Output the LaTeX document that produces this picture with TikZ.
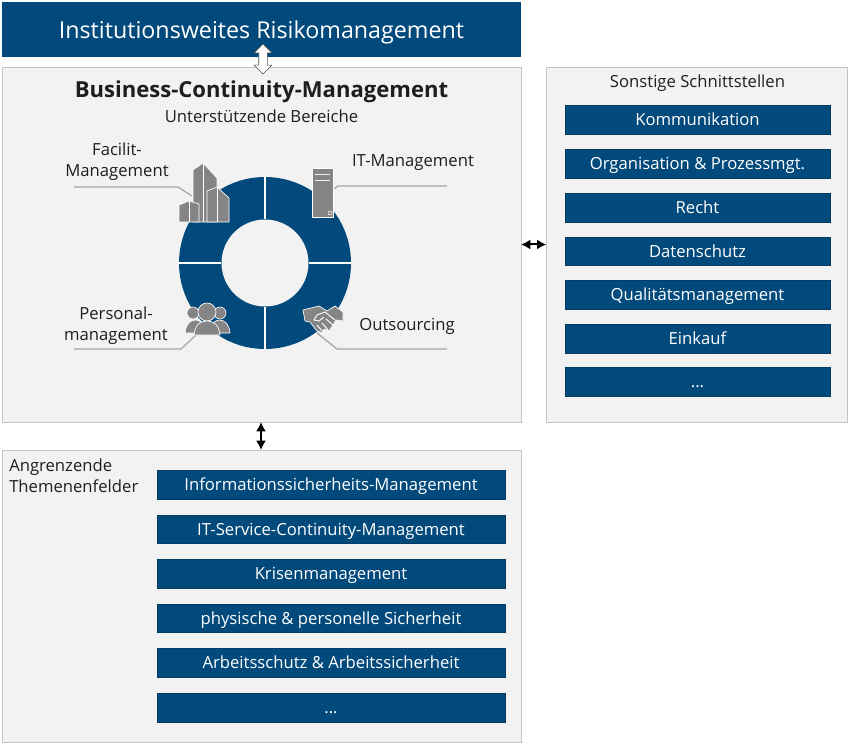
\documentclass[tikz,border=0pt]{standalone}
\usepackage{fontspec}
\setmainfont{Open Sans}
\usetikzlibrary{arrows.meta,shapes.arrows}
\definecolor{barblue}{HTML}{034A7C}
\definecolor{panelfill}{HTML}{F2F2F2}
\definecolor{panelline}{HTML}{C4C4C4}
\definecolor{icongrey}{HTML}{858585}
\definecolor{leader}{HTML}{A6A6A6}
\definecolor{inktext}{HTML}{1E1E1E}
\tikzset{
  x=0.75pt,y=-0.75pt,
  panel/.style={draw=panelline,fill=panelfill,line width=0.7pt,outer sep=0pt,inner sep=0pt},
  bar/.style={fill=barblue,draw=barblue!80!black,line width=0.4pt},
  barlabel/.style={text=white,inner sep=0pt,text height=9pt,text depth=0pt,font=\fontsize{12.5pt}{14pt}\selectfont},
  lbl/.style={text=inktext,inner sep=0pt,text height=9pt,text depth=0pt,font=\fontsize{12.5pt}{15.8pt}\selectfont},
  lbltwo/.style={text=inktext,inner sep=0pt,align=center,font=\fontsize{12.5pt}{15.8pt}\selectfont},
  leadline/.style={draw=leader,line width=0.9pt},
  icon/.style={fill=icongrey,draw=white,line width=0.5pt,line join=round},
  blackarrow/.style={{Latex[length=7pt,width=7.5pt]}-{Latex[length=7pt,width=7.5pt]},line width=1.5pt,black},
}
\newcommand{\barbox}[6]{\path[bar] (#1,#2) rectangle (#3,#4); \node[barlabel] (#5) at ({(#1+#3)/2},{(#2+#4)/2+0.3}) {#6};}
\begin{document}
\begin{tikzpicture}
\useasboundingbox (0,0) rectangle (853,745);
% panels
\node[panel,minimum width=389.25pt,minimum height=266.25pt] (bcm) at (261.5,244.5) {};
\node[panel,minimum width=226pt,minimum height=266.25pt] (other) at (697,244.5) {};
\node[panel,minimum width=389.25pt,minimum height=219pt] (adj) at (261.5,596) {};
\node[fill=barblue,minimum width=389.25pt,minimum height=41.25pt,inner sep=0pt,outer sep=0pt] (top) at (261.5,29.5) {};
\node[text=white,inner sep=0pt,text height=12.6pt,text depth=0pt,font=\fontsize{17.45pt}{20pt}\selectfont] (toplabel) at (261.5,30) {Institutionsweites Risikomanagement};
% titles
\node[lbl,text height=11.8pt,font=\fontsize{16.55pt}{18pt}\bfseries\selectfont] (t1) at (261.5,90) {Business-Continuity-Management};
\node[lbl] (t2) at (261.5,116.5) {Unterstützende Bereiche};
\node[lbl] (t3) at (697.5,82) {Sonstige Schnittstellen};
\node[lbltwo,align=left,anchor=north west] (t4) at (9,459) {Angrenzende\\Themenenfelder};
% ring
\fill[barblue] (265,263) circle[radius=64.5pt];
\fill[panelfill] (265,263) circle[radius=32.6pt];
\draw[white,line width=1.5pt] (265,176) -- (265,219) (265,307) -- (265,350) (178,263) -- (221,263) (309,263) -- (352,263);
% leader lines
\draw[leadline] (74,187) -- (178,187) -- (192,196);
\draw[leadline] (334,189) -- (338,186) -- (447,186);
\draw[leadline] (74,349) -- (181,349) -- (196,335);
\draw[leadline] (317,333) -- (337,349) -- (447,349);
% building
\path[icon] (193,170) -- (203,163) -- (217,178) -- (217,222) -- (193,222) -- cycle;
\draw[white,line width=0.5pt] (203,163) -- (203,222);
\path[icon] (207,191) -- (217,187) -- (229,198) -- (229,222) -- (207,222) -- cycle;
\draw[white,line width=0.5pt] (217,187) -- (217,222);
\path[icon] (179,205) -- (189,201) -- (199,204) -- (199,222) -- (179,222) -- cycle;
\draw[white,line width=0.5pt] (189,201) -- (189,222);
% server
\path[icon] (312,168) rectangle (333,217);
\draw[white!85!icongrey,line width=0.6pt] (315,174) -- (330,174) (315,180) -- (330,180);
\draw[white,line width=0.4pt] (330,213) circle[radius=1.5pt];
% people
\path[icon] (193,313) circle[radius=6];
\path[icon] (220,313) circle[radius=6];
\path[icon] (185,333) .. controls (186,324) and (190,320) .. (196,320) .. controls (200,320) and (204,324) .. (205,333) -- cycle;
\path[icon] (230,333) .. controls (229,324) and (225,320) .. (219,320) .. controls (215,320) and (211,324) .. (210,333) -- cycle;
\path[icon] (207,312) circle[radius=9];
\path[icon] (194,335) .. controls (195,325) and (200,321) .. (207,321) .. controls (214,321) and (219,325) .. (220,335) -- cycle;
% handshake
\path[icon] (303,310) -- (319,306) -- (327,311) -- (335,306) -- (343,312) -- (343,321) -- (336,320) -- (333,325) -- (329,331) -- (324,329) -- (322,333) -- (316,330) -- (310,322) -- (305,321) -- cycle;
\draw[white,line width=0.7pt] (335,320) -- (325,312) -- (317,315) -- (314,320) -- (319,321) -- (324,317) (333,325) -- (326,319) (328,330) -- (322,323) (323,332) -- (317,325);
% icon labels
\node[lbltwo] (facil) at (117,162) {Facilit-\\Management};
\node[lbl] (itm) at (413,160.5) {IT-Management};
\node[lbltwo] (pers) at (116,326) {Personal-\\management};
\node[lbl] (outs) at (407,324.5) {Outsourcing};
% right bars
\barbox{565}{105}{830}{134}{r1}{Kommunikation}
\barbox{565}{149}{830}{178}{r2}{Organisation \& Prozessmgt.}
\barbox{565}{193}{830}{222}{r3}{Recht}
\barbox{565}{237}{830}{265}{r4}{Datenschutz}
\barbox{565}{280}{830}{309}{r5}{Qualitätsmanagement}
\barbox{565}{324}{830}{353}{r6}{Einkauf}
\barbox{565}{367}{830}{396}{r7}{...}
% bottom bars
\barbox{157}{470}{505}{499}{b1}{Informationssicherheits-Management}
\barbox{157}{515}{505}{543}{b2}{IT-Service-Continuity-Management}
\barbox{157}{559}{505}{588}{b3}{Krisenmanagement}
\barbox{157}{604}{505}{632}{b4}{physische \& personelle Sicherheit}
\barbox{157}{648}{505}{677}{b5}{Arbeitsschutz \& Arbeitssicherheit}
\barbox{157}{693}{505}{722}{b6}{...}
% connectors
\node[double arrow,draw=black!70,fill=white,line width=0.5pt,rotate=90,minimum height=22.5pt,minimum width=12.8pt,double arrow head extend=3.4pt,inner sep=3pt] (link) at (263,59) {};
\draw[blackarrow] (bcm.east) -- (other.west);
\coordinate (ba) at (261,0);
\draw[blackarrow] (ba |- bcm.south) -- (ba |- adj.north);
\end{tikzpicture}
\end{document}
